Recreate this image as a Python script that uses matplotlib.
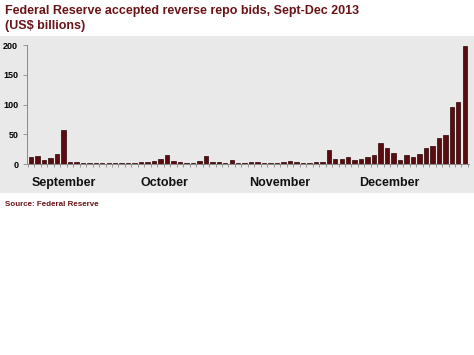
import numpy as np
import matplotlib
matplotlib.use("Agg")
import matplotlib.pyplot as plt
from matplotlib.patches import Rectangle

plt.rcParams['font.family'] = ['Liberation Sans', 'DejaVu Sans']

# accepted reverse repo bids, US$ billions, one bar per business day (Sep 23 - Dec 31, 2013)
sept = [12, 13, 7, 10, 16, 58]
octo = [4, 3, 2, 1, 1, 1, 1, 2, 1, 2, 2, 3, 3, 5, 8, 15, 5, 3, 2, 2, 5, 14]
nov = [4, 4, 2, 6, 1, 1, 3, 3, 1, 1, 1, 4, 5, 4, 2, 2, 3, 3, 23]
dec = [8, 8, 12, 6, 8, 12, 15, 35, 27, 18, 7, 15, 12, 16, 27, 30, 44, 49, 96, 104, 198]
values = sept + octo + nov + dec

months = ['September', 'October', 'November', 'December']
month_pos = [5.1, 20.6, 38.4, 55.3]
yticks = [0, 50, 100, 150, 200]

red = '#6b1418'
bar_col = '#5a0c10'

fig = plt.figure(figsize=(4.74, 3.55), dpi=100)
fig.patch.set_facecolor('white')

# grey panel behind the chart
fig.patches.append(Rectangle((0, 0.455), 1, 0.443, transform=fig.transFigure,
                             facecolor='#e9e9e9', edgecolor='none', zorder=-5))

fig.text(0.011, 0.985, 'Federal Reserve accepted reverse repo bids, Sept-Dec 2013\n(US$ billions)',
         color=red, fontsize=9.0, fontweight='bold', va='top', ha='left', linespacing=1.25)
fig.text(0.011, 0.425, 'Source: Federal Reserve', color=red, fontsize=5.8,
         fontweight='bold', va='center', ha='left')

ax = fig.add_axes([0.056, 0.538, 0.934, 0.335])
ax.set_facecolor('none')
ax.set_zorder(2)
x = np.arange(len(values))
ax.bar(x, values, width=0.68, color=bar_col, edgecolor='#2a0406', linewidth=0.5)

ax.set_xlim(-0.7, len(values) - 0.3)
ax.set_ylim(0, 200)
ax.set_yticks(yticks)
ax.set_yticklabels([str(v) for v in yticks], fontsize=6.5, fontweight='bold')
ax.set_xticks(np.arange(-0.5, len(values), 1.0))
ax.set_xticklabels([])
ax.tick_params(axis='x', length=2.5, width=0.6, color='#888888', direction='out')
ax.tick_params(axis='y', length=3, width=0.6, color='#888888', pad=3)

for s in ['top', 'right']:
    ax.spines[s].set_visible(False)
ax.spines['left'].set_color('#888888')
ax.spines['bottom'].set_color('#888888')
ax.spines['left'].set_linewidth(0.7)
ax.spines['bottom'].set_linewidth(0.7)

for m, p in zip(months, month_pos):
    ax.text(p, -32, m, ha='center', va='center', fontsize=9, fontweight='bold',
            color='#111111')

fig.savefig('out.png', dpi=100)
